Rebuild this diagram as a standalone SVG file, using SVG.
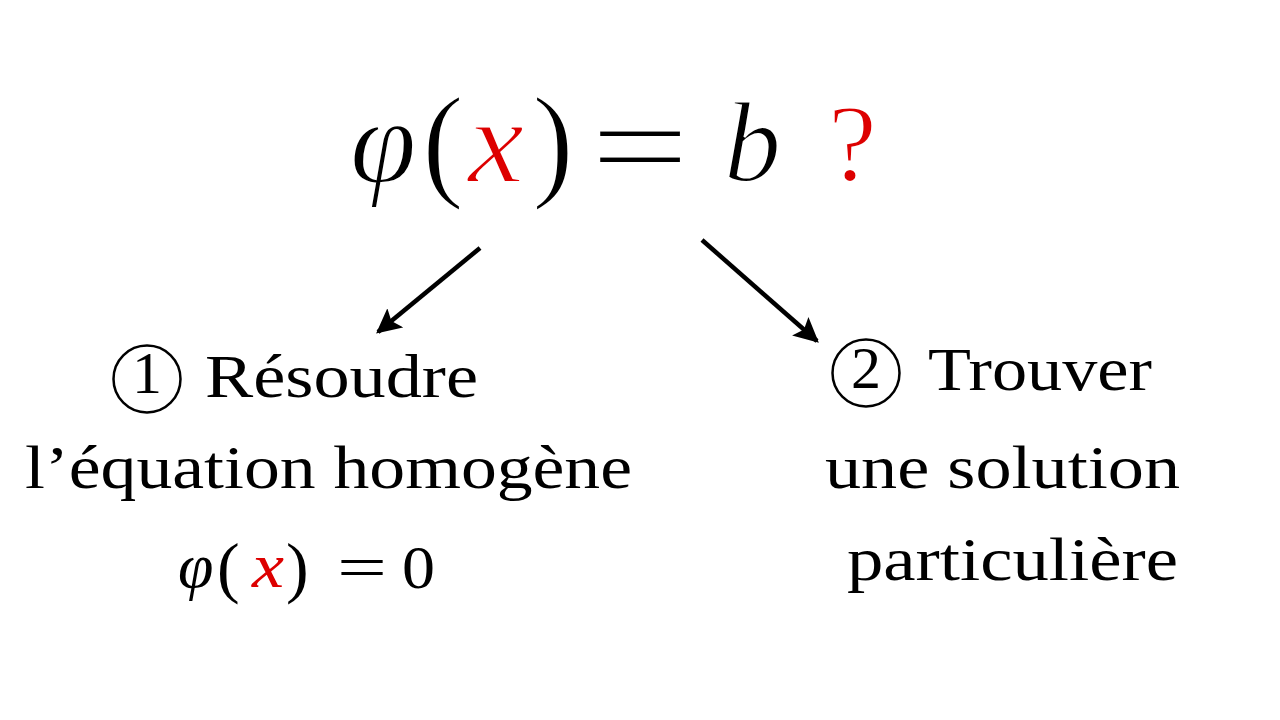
<svg xmlns="http://www.w3.org/2000/svg" width="1280" height="720" viewBox="0 0 1280 720">
<defs>
<style>
.t{font-family:"Liberation Serif","DejaVu Serif",serif;fill:#000}
.i{font-style:italic}
.r{fill:#dd0000}
.th{stroke:#fff;stroke-width:2}
.c{fill:none;stroke:#000;stroke-width:2.5}
.a{stroke:#000;stroke-width:4.5;fill:none}
</style>
<marker id="ah" viewBox="0 0 10 10" refX="9" refY="5" markerWidth="5.5" markerHeight="5.5" orient="auto" markerUnits="strokeWidth">
<path d="M0,0 L10,5 L0,10 L2,5 Z" fill="#000"/>
</marker>
</defs>
<rect width="1280" height="720" fill="#fff"/>
<g id="top">
<text class="t i th" x="350" y="182" font-size="120">φ</text>
<text class="t th" x="422" y="184" font-size="126">(</text>
<text class="t i r th" x="468" y="182" font-size="120" textLength="56" lengthAdjust="spacingAndGlyphs">x</text>
<text class="t th" x="532" y="184" font-size="126">)</text>
<text class="t th" x="590" y="190" font-size="130" textLength="100" lengthAdjust="spacingAndGlyphs">=</text>
<text class="t i th" x="724" y="181" font-size="114">b</text>
<text class="t r th" x="828" y="180" font-size="110">?</text>
</g>
<g id="connectors">
<line class="a" x1="480" y1="248" x2="378" y2="332" marker-end="url(#ah)"/>
<line class="a" x1="702" y1="240" x2="817" y2="341" marker-end="url(#ah)"/>
</g>
<g id="left">
<circle class="c" cx="147" cy="379" r="33.5"/>
<text class="t" x="147" y="393" font-size="60" text-anchor="middle">1</text>
<text class="t" x="205" y="397" font-size="62" textLength="273" lengthAdjust="spacingAndGlyphs">Résoudre</text>
<text class="t" x="25" y="488" font-size="62" textLength="607" lengthAdjust="spacingAndGlyphs">l’équation homogène</text>
<text class="t i" x="178" y="587" font-size="64">φ</text>
<text class="t" x="217" y="590" font-size="68">(</text>
<text class="t i r" x="252" y="587" font-size="64" textLength="32" lengthAdjust="spacingAndGlyphs">x</text>
<text class="t" x="286" y="590" font-size="68">)</text>
<text class="t" x="337" y="587" font-size="60" textLength="50" lengthAdjust="spacingAndGlyphs">=</text>
<text class="t" x="402" y="588" font-size="62" textLength="33" lengthAdjust="spacingAndGlyphs">0</text>
</g>
<g id="right">
<circle class="c" cx="866" cy="373" r="33.5"/>
<text class="t" x="866" y="388" font-size="60" text-anchor="middle">2</text>
<text class="t" x="928" y="390" font-size="62" textLength="224" lengthAdjust="spacingAndGlyphs">Trouver</text>
<text class="t" x="825" y="488" font-size="62" textLength="355" lengthAdjust="spacingAndGlyphs">une solution</text>
<text class="t" x="847" y="580" font-size="62" textLength="331" lengthAdjust="spacingAndGlyphs">particulière</text>
</g>
</svg>
